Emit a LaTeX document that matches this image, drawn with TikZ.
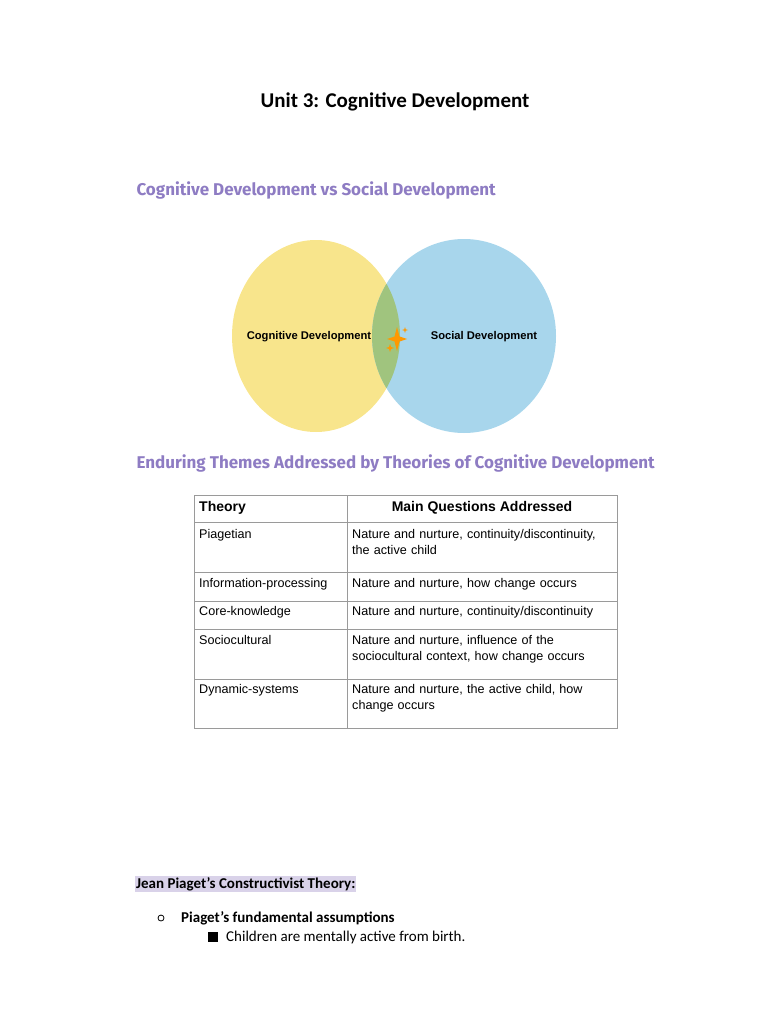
\documentclass[tikz,border=0pt]{standalone}
\usepackage{fontspec}
\setmainfont{Carlito}
\newfontfamily\tablefont{Liberation Sans}
\newfontfamily\headfont{Fira Sans}
\usetikzlibrary{positioning}
\definecolor{headpurple}{HTML}{8E7CC3}
\definecolor{venyellow}{HTML}{F8E58C}
\definecolor{venblue}{HTML}{A8D6EC}
\definecolor{vengreen}{HTML}{A0C47E}
\definecolor{hilite}{HTML}{D9D2E9}
\definecolor{rulegray}{HTML}{9A9A9A}
\begin{document}
\begin{tikzpicture}[
  x=1pt, y=-1pt,
  heading/.style={
    anchor=west,
    text=headpurple,
    font=\headfont\fontsize{17}{20}\selectfont\bfseries
  },
  cell/.style={
    anchor=north west,
    font=\tablefont\fontsize{12.6}{16}\selectfont,
    align=left,
    text width=#1,
    inner sep=0pt
  },
  vlabel/.style={
    font=\tablefont\fontsize{11.2}{13}\selectfont\bfseries
  }
]
\useasboundingbox (0,0) rectangle (768,1024);
% Title and first heading
\node[font=\fontsize{21}{25}\selectfont\bfseries] (title) at (395,102) {Unit 3: Cognitive Development};
\node[heading] (head1) at (133,190) {Cognitive Development vs Social Development};

% Venn diagram
\fill[venyellow] (316,336) ellipse [x radius=84, y radius=96];
\fill[venblue] (464,336) ellipse [x radius=92, y radius=97];
\begin{scope}
  \clip (316,336) ellipse [x radius=84, y radius=96];
  \fill[vengreen] (464,336) ellipse [x radius=92, y radius=97];
\end{scope}
\node[vlabel] (cog) at (309,337) {Cognitive Development};
\node[vlabel] (soc) at (484,337) {Social Development};
\fill[orange!80!yellow] (397,327) -- (399.5,336.5) -- (407,339) -- (399.5,341.5) -- (397,351)
  -- (394.5,341.5) -- (387,339) -- (394.5,336.5) -- cycle;
\fill[orange!80!yellow] (390,344) -- (391,347) -- (394,348) -- (391,349) -- (390,352)
  -- (389,349) -- (386,348) -- (389,347) -- cycle;
\fill[orange!80!yellow] (405,327) -- (405.7,329.3) -- (408,330) -- (405.7,330.7) -- (405,333)
  -- (404.3,330.7) -- (402,330) -- (404.3,329.3) -- cycle;

% Second heading
\node[heading] (head2) at (133,463) {Enduring Themes Addressed by Theories of Cognitive Development};

% Table
\draw[rulegray, line width=0.6pt] (194,495) rectangle (617,728);
\draw[rulegray, line width=0.6pt] (347,495) -- (347,728);
\foreach \y in {522,572,601,629,679}
  \draw[rulegray, line width=0.6pt] (194,\y) -- (617,\y);
\node[cell=140pt, font=\tablefont\fontsize{14}{16}\selectfont\bfseries] (hth) at (199,501) {Theory};
\node[font=\tablefont\fontsize{14}{16}\selectfont\bfseries] (hq) at (482,508) {Main Questions Addressed};
\node[cell=140pt] (t1) at (199,529) {Piagetian};
\node[cell=262pt] (q1) at (352,529) {Nature and nurture, continuity/discontinuity,\\the active child};
\node[cell=140pt] (t2) at (199,578) {Information-processing};
\node[cell=262pt] (q2) at (352,578) {Nature and nurture, how change occurs};
\node[cell=140pt] (t3) at (199,606) {Core-knowledge};
\node[cell=262pt] (q3) at (352,606) {Nature and nurture, continuity/discontinuity};
\node[cell=140pt] (t4) at (199,635) {Sociocultural};
\node[cell=262pt] (q4) at (352,635) {Nature and nurture, influence of the\\sociocultural context, how change occurs};
\node[cell=140pt] (t5) at (199,684) {Dynamic-systems};
\node[cell=262pt] (q5) at (352,684) {Nature and nurture, the active child, how\\change occurs};

% Notes below
\node[anchor=west, fill=hilite, inner sep=1pt, font=\fontsize{15}{17}\selectfont\bfseries] (piaget) at (135,884) {Jean Piaget's Constructivist Theory:};
\draw[line width=0.8pt] (161,918) circle (3);
\node[anchor=west, inner sep=0pt, font=\fontsize{15}{17}\selectfont\bfseries] (assume) at (181,918) {Piaget's fundamental assumptions};
\fill (208,932) rectangle (218,942);
\node[anchor=west, inner sep=0pt, font=\fontsize{15}{17}\selectfont] (active) at (226,937) {Children are mentally active from birth.};
\end{tikzpicture}
\end{document}
